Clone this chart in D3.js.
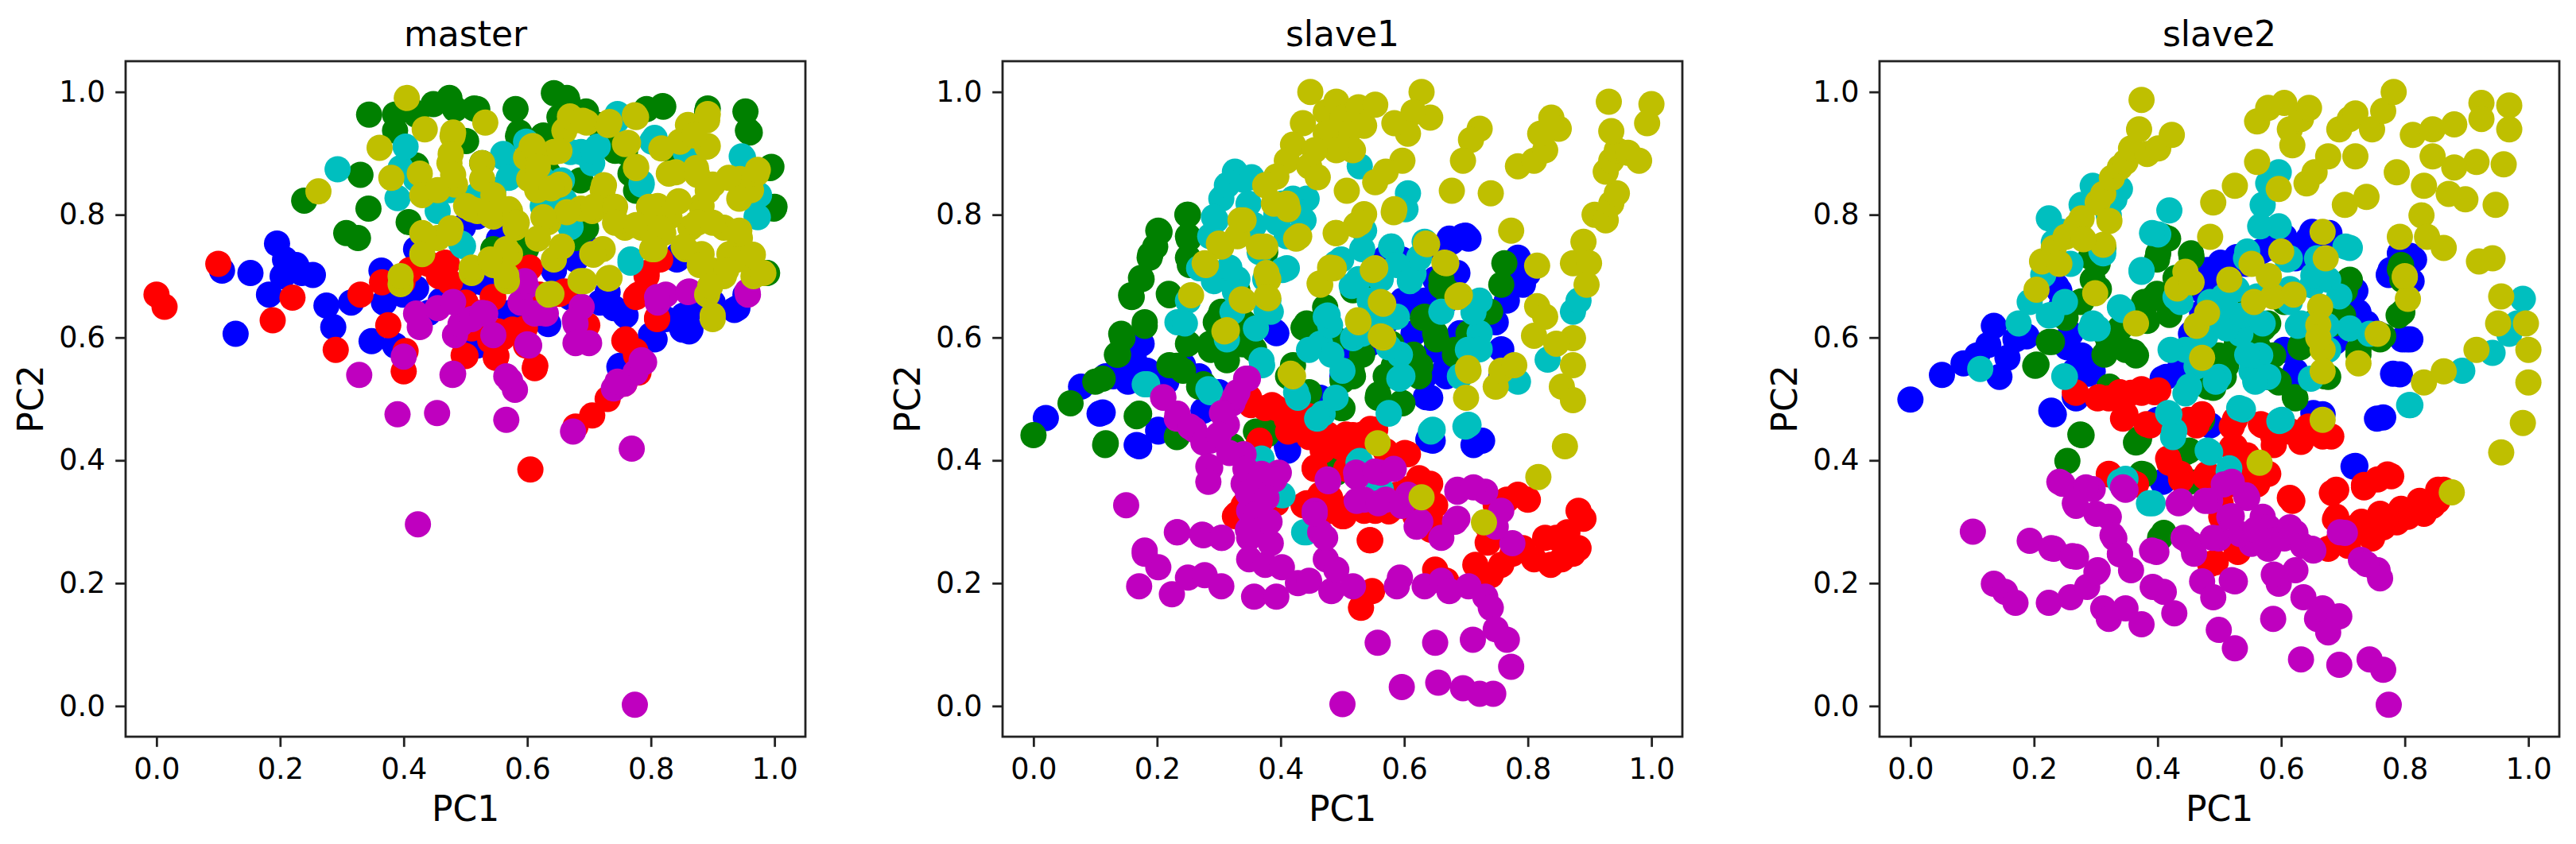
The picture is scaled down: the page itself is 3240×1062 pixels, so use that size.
<!DOCTYPE html>
<html><head><meta charset="utf-8">
<script src="https://cdn.jsdelivr.net/npm/d3@7"></script>
<style>
html,body{margin:0;padding:0;background:#fff;}
svg{display:block;}
</style></head>
<body>
<svg id="chart" width="3240" height="1062"></svg>
<script>
// ---------- data ----------
const panelTitles = ["master", "slave1", "slave2"];
const classColors = ["#0000ff", "#008000", "#ff0000", "#00bfbf", "#bf00bf", "#bfbf00"]; // b g r c m y
const tickValues = [0.0, 0.2, 0.4, 0.6, 0.8, 1.0];
const xLabel = "PC1";
const yLabel = "PC2";

// master
const masterBlue = [[0.106,0.709],[0.128,0.606],[0.152,0.705],[0.195,0.753],[0.182,0.67],[0.208,0.727],[0.226,0.718],[0.235,0.705],[0.253,0.702],[0.204,0.70],[0.275,0.652],[0.286,0.617],[0.348,0.594],[0.364,0.709],[0.368,0.657],[0.386,0.587],[0.399,0.67],[0.42,0.744],[0.44,0.64],[0.474,0.69],[0.496,0.78],[0.519,0.797],[0.527,0.69],[0.554,0.76],[0.572,0.64],[0.643,0.709],[0.678,0.727],[0.718,0.657],[0.74,0.648],[0.757,0.64],[0.73,0.674],[0.749,0.552],[0.80,0.604],[0.824,0.63],[0.847,0.622],[0.851,0.613],[0.864,0.613],[0.842,0.727],[0.869,0.648],[0.94,0.648],[0.953,0.67],[0.90,0.657],[0.634,0.622],[0.67,0.665],[0.598,0.622],[0.315,0.657],[0.519,0.587],
  [0.562,0.766],[0.643,0.71],[0.506,0.688],[0.724,0.658],[0.759,0.636],[0.853,0.636],[0.862,0.61],[0.806,0.597],[0.935,0.645],[0.845,0.735],[0.75,0.554],[0.699,0.744],[0.46,0.66],[0.42,0.68]];
const masterGreen = [[0.239,0.823],[0.307,0.77],[0.326,0.762],[0.33,0.865],[0.343,0.81],[0.344,0.963],[0.386,0.963],[0.386,0.937],[0.408,0.976],[0.42,0.963],[0.448,0.98],[0.474,0.99],[0.483,0.972],[0.519,0.972],[0.501,0.92],[0.408,0.788],[0.581,0.972],[0.585,0.928],[0.625,0.928],[0.643,0.998],[0.665,0.985],[0.652,0.959],[0.692,0.963],[0.714,0.946],[0.741,0.911],[0.767,0.867],[0.78,0.84],[0.793,0.972],[0.82,0.976],[0.864,0.937],[0.891,0.968],[0.953,0.968],[0.957,0.937],[0.993,0.876],[0.999,0.81],[0.988,0.705],[0.687,0.797],[0.678,0.762],[0.598,0.744],[0.527,0.884],[0.634,0.867],[0.758,0.902],[0.838,0.902],[0.42,0.88],[0.545,0.744],
  [0.514,0.973],[0.664,0.99],[0.695,0.968],[0.656,0.96],[0.587,0.934],[0.626,0.929],[0.819,0.977],[0.892,0.973],[0.96,0.934],[0.995,0.878],[1.0,0.813],[0.986,0.705],[0.686,0.856],[0.776,0.839],[0.695,0.778],[0.493,0.921],[0.742,0.904]];
const masterRed = [[0.0,0.67],[0.013,0.65],[0.10,0.72],[0.188,0.628],[0.22,0.665],[0.29,0.58],[0.33,0.67],[0.365,0.69],[0.375,0.62],[0.398,0.69],[0.403,0.578],[0.40,0.545],[0.41,0.71],[0.44,0.72],[0.457,0.70],[0.47,0.72],[0.475,0.69],[0.50,0.657],[0.50,0.57],[0.52,0.64],[0.545,0.665],[0.54,0.595],[0.55,0.57],[0.576,0.613],[0.598,0.587],[0.585,0.69],[0.60,0.71],[0.612,0.55],[0.62,0.67],[0.66,0.675],[0.697,0.62],[0.605,0.385],[0.678,0.455],[0.705,0.473],[0.73,0.50],[0.757,0.525],[0.78,0.543],[0.757,0.595],[0.775,0.578],[0.78,0.67],[0.793,0.70],[0.81,0.63],[0.815,0.727],[0.56,0.60],
  [0.467,0.722],[0.604,0.714],[0.793,0.705],[0.776,0.666],[0.81,0.632],[0.652,0.671],[0.544,0.666],[0.51,0.615],[0.553,0.61],[0.596,0.615],[0.497,0.571],[0.549,0.567],[0.613,0.554],[0.69,0.619],[0.759,0.597],[0.776,0.571]];
const masterCyan = [[0.293,0.874],[0.395,0.876],[0.403,0.911],[0.39,0.827],[0.42,0.858],[0.455,0.806],[0.496,0.749],[0.519,0.832],[0.545,0.84],[0.562,0.893],[0.589,0.884],[0.598,0.919],[0.625,0.858],[0.66,0.823],[0.67,0.902],[0.687,0.902],[0.705,0.884],[0.714,0.911],[0.745,0.954],[0.767,0.722],[0.785,0.849],[0.802,0.919],[0.949,0.893],[0.971,0.797],[0.975,0.832],[0.474,0.84],[0.625,0.814],[0.856,0.902],[0.873,0.919],[0.67,0.78],
  [0.746,0.964],[0.561,0.899],[0.707,0.904],[0.806,0.925],[0.947,0.895],[0.785,0.852],[0.656,0.856],[0.54,0.839],[0.973,0.796],[0.767,0.727],[0.493,0.753],[0.57,0.86]];
const masterMagenta = [[0.328,0.539],[0.39,0.475],[0.454,0.477],[0.423,0.296],[0.40,0.569],[0.42,0.639],[0.426,0.617],[0.455,0.648],[0.479,0.539],[0.483,0.604],[0.492,0.622],[0.51,0.63],[0.532,0.639],[0.566,0.466],[0.572,0.53],[0.58,0.515],[0.589,0.657],[0.598,0.683],[0.603,0.587],[0.612,0.639],[0.63,0.639],[0.678,0.622],[0.678,0.591],[0.70,0.591],[0.674,0.447],[0.74,0.517],[0.757,0.525],[0.775,0.543],[0.789,0.56],[0.769,0.419],[0.774,0.002],[0.811,0.657],[0.824,0.67],[0.86,0.674],[0.957,0.67],[0.545,0.604],[0.688,0.65],
  [0.48,0.658],[0.527,0.64],[0.596,0.692],[0.622,0.64],[0.677,0.628],[0.682,0.593],[0.81,0.666],[0.862,0.675],[0.956,0.675],[0.60,0.589],[0.566,0.537],[0.48,0.541],[0.785,0.563],[0.746,0.528]];
const masterYellow = [[0.262,0.838],[0.405,0.99],[0.361,0.909],[0.38,0.86],[0.434,0.939],[0.479,0.928],[0.532,0.95],[0.426,0.867],[0.43,0.832],[0.474,0.884],[0.483,0.849],[0.501,0.814],[0.527,0.884],[0.527,0.858],[0.519,0.806],[0.545,0.797],[0.572,0.806],[0.581,0.779],[0.598,0.893],[0.607,0.911],[0.603,0.858],[0.616,0.84],[0.634,0.788],[0.643,0.902],[0.66,0.937],[0.678,0.954],[0.696,0.95],[0.731,0.946],[0.776,0.959],[0.758,0.915],[0.776,0.876],[0.722,0.84],[0.74,0.806],[0.705,0.806],[0.758,0.779],[0.811,0.814],[0.82,0.77],[0.802,0.744],[0.785,0.779],[0.829,0.867],[0.847,0.919],[0.86,0.946],[0.873,0.876],[0.891,0.954],[0.891,0.911],[0.9,0.849],[0.882,0.814],[0.864,0.779],[0.856,0.744],[0.882,0.736],[0.9,0.709],[0.9,0.63],[0.891,0.67],[0.918,0.70],[0.927,0.736],[0.944,0.762],[0.962,0.84],[0.971,0.867],[0.944,0.858],[0.94,0.727],[0.966,0.70],[0.918,0.779],[0.83,0.797],[0.43,0.77],[0.43,0.736],[0.455,0.762],[0.474,0.77],[0.395,0.687],[0.51,0.705],[0.545,0.718],[0.567,0.692],[0.572,0.736],[0.634,0.67],[0.643,0.727],[0.692,0.692],[0.705,0.736],[0.731,0.696],[0.722,0.744],[0.395,0.70],[0.687,0.81],[0.652,0.849],[0.545,0.832],[0.455,0.84],
  [0.48,0.934],[0.669,0.96],[0.69,0.953],[0.733,0.951],[0.774,0.962],[0.892,0.964],[0.763,0.917],[0.609,0.912],[0.652,0.904],[0.476,0.899],[0.817,0.908],[0.892,0.912],[0.87,0.929],[0.776,0.878],[0.617,0.878],[0.84,0.869],[0.973,0.873],[0.926,0.86],[0.875,0.865],[0.48,0.865],[0.724,0.848],[0.639,0.843],[0.943,0.826],[0.892,0.839],[0.707,0.813],[0.742,0.813],[0.797,0.813],[0.845,0.822],[0.664,0.804],[0.57,0.809],[0.51,0.809],[0.54,0.80],[0.476,0.778],[0.583,0.787],[0.626,0.796],[0.742,0.787],[0.776,0.783],[0.815,0.778],[0.875,0.787],[0.90,0.787],[0.943,0.774],[0.617,0.761],[0.656,0.748],[0.566,0.744],[0.51,0.714],[0.54,0.727],[0.566,0.701],[0.639,0.671],[0.686,0.692],[0.707,0.735],[0.733,0.697],[0.806,0.744],[0.853,0.748],[0.879,0.718],[0.922,0.71],[0.965,0.735],[0.982,0.705],[0.896,0.684],[0.90,0.636]];

// slave1
const slave1Blue = [[0.02,0.469],[0.077,0.52],[0.107,0.476],[0.117,0.537],[0.135,0.546],[0.153,0.528],[0.171,0.546],[0.171,0.423],[0.175,0.59],[0.202,0.45],[0.215,0.528],[0.242,0.555],[0.268,0.537],[0.286,0.485],[0.30,0.511],[0.393,0.607],[0.41,0.423],[0.446,0.467],[0.464,0.502],[0.50,0.537],[0.517,0.572],[0.544,0.59],[0.57,0.625],[0.597,0.66],[0.606,0.713],[0.615,0.607],[0.633,0.66],[0.642,0.502],[0.646,0.432],[0.65,0.695],[0.66,0.739],[0.677,0.756],[0.695,0.765],[0.704,0.761],[0.668,0.66],[0.668,0.537],[0.69,0.607],[0.726,0.432],[0.748,0.625],[0.757,0.581],[0.757,0.537],[0.775,0.695],[0.784,0.73],[0.792,0.686],[0.80,0.704],[0.766,0.66],[0.606,0.572],[0.633,0.537],[0.57,0.73],
  [0.129,0.537],[0.112,0.478],[0.167,0.425],[0.202,0.447],[0.163,0.563],[0.184,0.546],[0.275,0.481],[0.39,0.61],[0.412,0.416],[0.673,0.761],[0.699,0.766],[0.686,0.705],[0.618,0.649],[0.652,0.58],[0.665,0.546],[0.635,0.503],[0.639,0.434],[0.51,0.546],[0.712,0.425],[0.596,0.727]];
const slave1Green = [[0.0,0.441],[0.06,0.493],[0.1,0.528],[0.117,0.428],[0.135,0.572],[0.144,0.599],[0.158,0.669],[0.171,0.476],[0.175,0.695],[0.18,0.625],[0.188,0.73],[0.197,0.748],[0.202,0.774],[0.22,0.669],[0.22,0.555],[0.233,0.441],[0.25,0.80],[0.25,0.765],[0.25,0.73],[0.25,0.59],[0.242,0.546],[0.268,0.52],[0.286,0.59],[0.295,0.625],[0.304,0.642],[0.322,0.423],[0.33,0.677],[0.34,0.625],[0.357,0.581],[0.38,0.45],[0.42,0.555],[0.437,0.616],[0.446,0.511],[0.464,0.625],[0.482,0.59],[0.50,0.485],[0.517,0.537],[0.517,0.677],[0.535,0.695],[0.557,0.502],[0.57,0.537],[0.579,0.59],[0.597,0.493],[0.615,0.572],[0.624,0.537],[0.633,0.634],[0.65,0.607],[0.66,0.695],[0.668,0.677],[0.682,0.572],[0.704,0.607],[0.739,0.642],[0.757,0.686],[0.762,0.721],[0.49,0.38],[0.375,0.739],[0.5,0.53],
  [0.249,0.80],[0.204,0.772],[0.189,0.735],[0.174,0.697],[0.159,0.666],[0.219,0.671],[0.251,0.761],[0.253,0.718],[0.18,0.619],[0.142,0.606],[0.137,0.572],[0.112,0.533],[0.167,0.472],[0.116,0.425],[0.232,0.554],[0.232,0.438],[0.30,0.632],[0.287,0.58],[0.313,0.563],[0.339,0.589],[0.275,0.524],[0.36,0.447],[0.412,0.537],[0.442,0.623],[0.472,0.649],[0.489,0.597],[0.515,0.546],[0.498,0.485],[0.532,0.572],[0.558,0.507],[0.596,0.494],[0.626,0.554],[0.63,0.632],[0.652,0.597],[0.66,0.684],[0.682,0.58],[0.583,0.554],[0.48,0.386],[0.377,0.442]];
const slave1Red = [[0.326,0.309],[0.349,0.502],[0.366,0.432],[0.375,0.485],[0.393,0.485],[0.41,0.467],[0.42,0.45],[0.428,0.476],[0.446,0.45],[0.464,0.441],[0.482,0.432],[0.50,0.436],[0.517,0.441],[0.535,0.432],[0.553,0.45],[0.57,0.415],[0.588,0.406],[0.606,0.41],[0.455,0.388],[0.437,0.327],[0.464,0.344],[0.482,0.318],[0.50,0.309],[0.517,0.327],[0.535,0.318],[0.553,0.318],[0.57,0.336],[0.588,0.344],[0.606,0.353],[0.624,0.371],[0.642,0.362],[0.65,0.327],[0.646,0.296],[0.544,0.27],[0.548,0.187],[0.53,0.16],[0.65,0.222],[0.668,0.204],[0.715,0.23],[0.735,0.266],[0.735,0.292],[0.748,0.327],[0.766,0.336],[0.784,0.344],[0.8,0.336],[0.74,0.213],[0.757,0.23],[0.775,0.248],[0.792,0.257],[0.81,0.239],[0.828,0.274],[0.846,0.274],[0.864,0.283],[0.882,0.318],[0.89,0.305],[0.873,0.248],[0.855,0.239],[0.882,0.257],[0.837,0.23],[0.357,0.318],[0.34,0.327],[0.393,0.33],
  [0.352,0.49],[0.386,0.49],[0.42,0.477],[0.446,0.472],[0.412,0.447],[0.446,0.438],[0.476,0.442],[0.506,0.442],[0.532,0.442],[0.545,0.451],[0.468,0.416],[0.498,0.421],[0.601,0.412],[0.365,0.429],[0.455,0.386],[0.506,0.386],[0.33,0.313],[0.442,0.33],[0.48,0.339],[0.502,0.309],[0.532,0.326],[0.575,0.317],[0.639,0.356],[0.643,0.287],[0.545,0.27],[0.618,0.309],[0.347,0.36]];
const slave1Cyan = [[0.18,0.524],[0.233,0.625],[0.25,0.66],[0.268,0.713],[0.286,0.765],[0.295,0.791],[0.304,0.826],[0.313,0.848],[0.326,0.87],[0.34,0.857],[0.353,0.861],[0.348,0.818],[0.357,0.783],[0.366,0.739],[0.375,0.695],[0.38,0.66],[0.384,0.642],[0.37,0.555],[0.286,0.511],[0.33,0.695],[0.322,0.642],[0.393,0.80],[0.402,0.818],[0.42,0.826],[0.428,0.809],[0.437,0.791],[0.442,0.826],[0.41,0.765],[0.41,0.713],[0.428,0.502],[0.468,0.476],[0.464,0.59],[0.473,0.634],[0.482,0.572],[0.49,0.721],[0.50,0.546],[0.517,0.599],[0.526,0.695],[0.528,0.879],[0.535,0.774],[0.544,0.66],[0.553,0.625],[0.562,0.695],[0.579,0.748],[0.575,0.476],[0.588,0.634],[0.593,0.572],[0.597,0.537],[0.606,0.835],[0.602,0.809],[0.615,0.704],[0.624,0.73],[0.633,0.756],[0.646,0.45],[0.66,0.642],[0.69,0.537],[0.704,0.458],[0.722,0.607],[0.722,0.581],[0.722,0.66],[0.784,0.528],[0.832,0.564],[0.873,0.642],[0.882,0.66],[0.442,0.283],[0.526,0.397],[0.562,0.353],[0.357,0.397],[0.40,0.344],[0.48,0.62],
  [0.292,0.796],[0.343,0.796],[0.395,0.787],[0.429,0.804],[0.292,0.692],[0.317,0.714],[0.403,0.71],[0.326,0.675],[0.377,0.645],[0.245,0.623],[0.36,0.615],[0.313,0.597],[0.184,0.524],[0.283,0.516],[0.369,0.563],[0.425,0.511],[0.446,0.58],[0.459,0.468],[0.489,0.502],[0.476,0.636],[0.498,0.727],[0.515,0.684],[0.532,0.744],[0.532,0.606],[0.566,0.641],[0.579,0.748],[0.588,0.718],[0.609,0.692],[0.575,0.584],[0.592,0.533],[0.575,0.477],[0.643,0.447],[0.699,0.455],[0.712,0.641],[0.703,0.58],[0.528,0.399],[0.369,0.403],[0.438,0.283],[0.558,0.352],[0.403,0.343]];
const slave1Magenta = [[0.15,0.327],[0.171,0.195],[0.18,0.248],[0.202,0.226],[0.21,0.502],[0.224,0.182],[0.233,0.283],[0.233,0.476],[0.25,0.209],[0.26,0.45],[0.273,0.279],[0.277,0.213],[0.286,0.432],[0.286,0.388],[0.304,0.274],[0.304,0.195],[0.313,0.458],[0.322,0.493],[0.33,0.511],[0.344,0.533],[0.34,0.41],[0.34,0.362],[0.349,0.318],[0.349,0.274],[0.349,0.239],[0.357,0.178],[0.366,0.291],[0.375,0.23],[0.38,0.371],[0.384,0.265],[0.393,0.178],[0.397,0.38],[0.402,0.226],[0.428,0.20],[0.446,0.204],[0.455,0.318],[0.464,0.283],[0.473,0.239],[0.477,0.366],[0.482,0.187],[0.49,0.222],[0.50,0.003],[0.517,0.195],[0.522,0.38],[0.535,0.336],[0.557,0.103],[0.562,0.38],[0.57,0.336],[0.588,0.195],[0.593,0.209],[0.596,0.031],[0.606,0.344],[0.62,0.292],[0.633,0.195],[0.65,0.103],[0.655,0.038],[0.66,0.204],[0.673,0.187],[0.686,0.349],[0.686,0.305],[0.695,0.029],[0.704,0.195],[0.711,0.108],[0.722,0.02],[0.731,0.349],[0.731,0.178],[0.74,0.16],[0.744,0.02],[0.748,0.125],[0.757,0.318],[0.766,0.108],[0.773,0.064],[0.775,0.265],[0.748,0.292],[0.66,0.274],
  [0.21,0.503],[0.232,0.468],[0.347,0.533],[0.326,0.503],[0.305,0.477],[0.253,0.455],[0.275,0.429],[0.30,0.442],[0.283,0.39],[0.317,0.412],[0.343,0.386],[0.283,0.365],[0.369,0.378],[0.39,0.369],[0.347,0.347],[0.377,0.339],[0.36,0.313],[0.382,0.30],[0.347,0.287],[0.232,0.283],[0.275,0.278],[0.305,0.274],[0.18,0.253],[0.476,0.369],[0.455,0.313],[0.472,0.274],[0.523,0.373],[0.523,0.334],[0.553,0.382],[0.583,0.386],[0.558,0.33],[0.596,0.326],[0.626,0.30],[0.682,0.30],[0.686,0.352],[0.712,0.356]];
const slave1Yellow = [[0.448,1.0],[0.436,0.949],[0.42,0.914],[0.41,0.888],[0.393,0.862],[0.375,0.848],[0.473,0.967],[0.49,0.984],[0.50,0.958],[0.508,0.932],[0.517,0.905],[0.526,0.975],[0.535,0.945],[0.553,0.979],[0.473,0.932],[0.49,0.905],[0.455,0.905],[0.446,0.879],[0.46,0.861],[0.628,1.0],[0.642,0.958],[0.615,0.967],[0.606,0.932],[0.597,0.888],[0.584,0.949],[0.57,0.87],[0.553,0.853],[0.535,0.801],[0.522,0.783],[0.507,0.839],[0.49,0.77],[0.722,0.94],[0.708,0.922],[0.695,0.888],[0.677,0.839],[0.74,0.835],[0.584,0.809],[0.43,0.765],[0.41,0.818],[0.389,0.818],[0.34,0.791],[0.33,0.765],[0.304,0.748],[0.277,0.721],[0.255,0.669],[0.313,0.612],[0.34,0.66],[0.375,0.748],[0.38,0.695],[0.38,0.664],[0.464,0.686],[0.486,0.713],[0.42,0.537],[0.553,0.713],[0.526,0.625],[0.566,0.655],[0.566,0.60],[0.637,0.752],[0.668,0.721],[0.69,0.669],[0.704,0.546],[0.70,0.502],[0.748,0.52],[0.757,0.546],[0.778,0.555],[0.557,0.428],[0.628,0.34],[0.729,0.299],[0.773,0.774],[0.815,0.717],[0.815,0.651],[0.81,0.603],[0.828,0.634],[0.86,0.423],[0.817,0.373],[0.784,0.879],[0.81,0.888],[0.828,0.905],[0.82,0.932],[0.838,0.958],[0.85,0.94],[0.873,0.721],[0.89,0.756],[0.899,0.721],[0.895,0.686],[0.873,0.599],[0.846,0.59],[0.855,0.52],[0.873,0.555],[0.873,0.498],[0.908,0.80],[0.926,0.791],[0.935,0.818],[0.944,0.835],[0.926,0.87],[0.935,0.888],[0.944,0.905],[0.931,0.984],[0.935,0.936],[0.962,0.901],[0.98,0.888],[1.0,0.98],[0.993,0.949],
  [0.335,0.791],[0.30,0.753],[0.279,0.718],[0.365,0.748],[0.377,0.705],[0.337,0.662],[0.377,0.666],[0.309,0.61],[0.425,0.761],[0.412,0.809],[0.489,0.77],[0.528,0.787],[0.583,0.804],[0.463,0.688],[0.48,0.714],[0.549,0.71],[0.562,0.658],[0.525,0.628],[0.562,0.602],[0.635,0.753],[0.665,0.722],[0.686,0.666],[0.703,0.55],[0.416,0.541]];

// slave2
const slave2Blue = [[0.0,0.499],[0.051,0.539],[0.086,0.558],[0.108,0.571],[0.126,0.588],[0.135,0.619],[0.144,0.536],[0.157,0.567],[0.17,0.597],[0.188,0.602],[0.232,0.475],[0.241,0.676],[0.259,0.606],[0.277,0.571],[0.295,0.545],[0.268,0.501],[0.40,0.466],[0.414,0.536],[0.437,0.553],[0.454,0.606],[0.472,0.641],[0.48,0.672],[0.485,0.457],[0.499,0.694],[0.516,0.702],[0.543,0.72],[0.561,0.737],[0.579,0.746],[0.605,0.764],[0.623,0.729],[0.65,0.772],[0.667,0.764],[0.676,0.755],[0.667,0.475],[0.72,0.391],[0.72,0.676],[0.725,0.641],[0.738,0.623],[0.756,0.606],[0.765,0.47],[0.774,0.702],[0.792,0.737],[0.8,0.72],[0.809,0.733],[0.796,0.597],[0.809,0.597],[0.792,0.54],[0.623,0.545],[0.579,0.536],[0.605,0.58],
  [0.228,0.481],[0.266,0.503],[0.266,0.546],[0.288,0.541],[0.236,0.684],[0.245,0.654],[0.254,0.584],[0.408,0.533],[0.468,0.679],[0.481,0.71],[0.502,0.722],[0.528,0.731],[0.567,0.74],[0.61,0.748],[0.644,0.761],[0.678,0.77],[0.713,0.679],[0.687,0.593],[0.652,0.477],[0.665,0.597],[0.622,0.541],[0.717,0.39],[0.755,0.468],[0.777,0.71],[0.803,0.597],[0.781,0.541],[0.815,0.727],[0.811,0.692],[0.408,0.365],[0.472,0.472]];
const slave2Green = [[0.204,0.556],[0.229,0.593],[0.251,0.632],[0.277,0.659],[0.277,0.441],[0.295,0.694],[0.303,0.72],[0.312,0.746],[0.321,0.588],[0.339,0.615],[0.348,0.58],[0.365,0.571],[0.37,0.435],[0.374,0.378],[0.383,0.627],[0.392,0.663],[0.401,0.737],[0.41,0.282],[0.41,0.764],[0.419,0.637],[0.445,0.685],[0.454,0.737],[0.472,0.58],[0.472,0.466],[0.499,0.571],[0.507,0.536],[0.525,0.606],[0.543,0.641],[0.561,0.588],[0.579,0.623],[0.587,0.571],[0.596,0.527],[0.605,0.658],[0.623,0.501],[0.632,0.588],[0.65,0.623],[0.676,0.536],[0.685,0.623],[0.703,0.676],[0.711,0.694],[0.725,0.58],[0.765,0.602],[0.792,0.711],[0.796,0.694],[0.796,0.641],[0.49,0.518],[0.445,0.413],
  [0.292,0.731],[0.305,0.679],[0.275,0.658],[0.224,0.593],[0.202,0.554],[0.318,0.602],[0.314,0.572],[0.361,0.576],[0.378,0.658],[0.399,0.727],[0.417,0.761],[0.455,0.731],[0.399,0.671],[0.429,0.697],[0.322,0.52],[0.275,0.442],[0.365,0.429],[0.378,0.377],[0.451,0.416],[0.481,0.52],[0.511,0.554],[0.528,0.589],[0.575,0.572],[0.588,0.533],[0.571,0.615],[0.622,0.503],[0.631,0.584],[0.67,0.537],[0.708,0.692],[0.70,0.636],[0.725,0.572],[0.79,0.636],[0.794,0.718],[0.76,0.597],[0.451,0.365],[0.404,0.274],[0.254,0.399]];
const slave2Red = [[0.268,0.51],[0.303,0.501],[0.321,0.501],[0.321,0.378],[0.339,0.51],[0.348,0.475],[0.357,0.51],[0.365,0.361],[0.374,0.51],[0.388,0.457],[0.401,0.514],[0.419,0.396],[0.437,0.378],[0.45,0.466],[0.463,0.457],[0.472,0.475],[0.48,0.378],[0.494,0.234],[0.503,0.308],[0.516,0.361],[0.525,0.422],[0.525,0.466],[0.53,0.251],[0.543,0.387],[0.561,0.361],[0.57,0.457],[0.579,0.378],[0.587,0.439],[0.614,0.448],[0.618,0.334],[0.632,0.43],[0.65,0.448],[0.667,0.439],[0.681,0.439],[0.676,0.256],[0.689,0.352],[0.689,0.308],[0.694,0.273],[0.72,0.291],[0.734,0.356],[0.747,0.273],[0.756,0.369],[0.765,0.291],[0.778,0.374],[0.787,0.299],[0.805,0.308],[0.818,0.317],[0.831,0.313],[0.845,0.326],[0.853,0.334],[0.863,0.352],[0.703,0.273],
  [0.266,0.511],[0.305,0.503],[0.339,0.511],[0.374,0.516],[0.395,0.511],[0.344,0.468],[0.382,0.459],[0.434,0.459],[0.468,0.468],[0.52,0.455],[0.52,0.421],[0.567,0.459],[0.614,0.447],[0.644,0.455],[0.674,0.442],[0.588,0.425],[0.545,0.408],[0.417,0.403],[0.438,0.369],[0.477,0.373],[0.322,0.377],[0.356,0.365],[0.571,0.377],[0.614,0.339],[0.682,0.347],[0.734,0.36],[0.772,0.377],[0.687,0.304],[0.73,0.30],[0.76,0.313],[0.794,0.321],[0.824,0.334],[0.854,0.352],[0.708,0.261],[0.528,0.253],[0.485,0.231],[0.502,0.33]];
const slave2Cyan = [[0.113,0.549],[0.175,0.623],[0.193,0.658],[0.215,0.702],[0.224,0.794],[0.232,0.755],[0.245,0.772],[0.228,0.637],[0.25,0.536],[0.259,0.72],[0.277,0.816],[0.295,0.847],[0.295,0.623],[0.303,0.615],[0.312,0.737],[0.321,0.799],[0.33,0.825],[0.339,0.842],[0.343,0.645],[0.348,0.37],[0.374,0.707],[0.392,0.33],[0.401,0.768],[0.419,0.807],[0.419,0.475],[0.427,0.448],[0.437,0.658],[0.445,0.58],[0.445,0.509],[0.463,0.553],[0.472,0.606],[0.485,0.413],[0.49,0.623],[0.499,0.536],[0.507,0.667],[0.516,0.641],[0.516,0.387],[0.534,0.606],[0.538,0.483],[0.543,0.729],[0.552,0.545],[0.561,0.667],[0.566,0.571],[0.57,0.623],[0.579,0.536],[0.57,0.816],[0.566,0.781],[0.579,0.851],[0.596,0.869],[0.596,0.781],[0.601,0.466],[0.614,0.729],[0.614,0.658],[0.632,0.623],[0.65,0.685],[0.658,0.729],[0.667,0.623],[0.676,0.694],[0.676,0.58],[0.694,0.667],[0.711,0.746],[0.711,0.615],[0.743,0.606],[0.809,0.49],[0.893,0.546],[0.942,0.575],[0.969,0.606],[0.991,0.663],[0.982,0.623],[0.25,0.658],
  [0.391,0.77],[0.374,0.71],[0.309,0.74],[0.224,0.636],[0.292,0.615],[0.249,0.537],[0.339,0.649],[0.421,0.58],[0.429,0.666],[0.451,0.52],[0.485,0.658],[0.494,0.528],[0.477,0.602],[0.511,0.615],[0.545,0.572],[0.537,0.636],[0.528,0.679],[0.545,0.74],[0.61,0.727],[0.614,0.679],[0.627,0.619],[0.652,0.701],[0.674,0.619],[0.704,0.748],[0.648,0.533],[0.558,0.528],[0.532,0.485],[0.597,0.464],[0.417,0.477],[0.425,0.438],[0.481,0.416],[0.515,0.382],[0.386,0.33],[0.339,0.365],[0.807,0.49]];
const slave2Magenta = [[0.101,0.284],[0.135,0.199],[0.153,0.186],[0.17,0.168],[0.193,0.269],[0.224,0.168],[0.232,0.256],[0.246,0.362],[0.259,0.177],[0.268,0.243],[0.268,0.326],[0.286,0.194],[0.295,0.353],[0.303,0.221],[0.312,0.159],[0.321,0.308],[0.321,0.142],[0.33,0.273],[0.339,0.247],[0.348,0.159],[0.348,0.352],[0.357,0.221],[0.374,0.133],[0.392,0.194],[0.398,0.251],[0.41,0.186],[0.427,0.151],[0.438,0.333],[0.454,0.264],[0.472,0.203],[0.485,0.334],[0.49,0.177],[0.499,0.273],[0.499,0.124],[0.507,0.361],[0.516,0.308],[0.525,0.094],[0.525,0.203],[0.543,0.343],[0.552,0.264],[0.57,0.308],[0.579,0.256],[0.587,0.142],[0.596,0.199],[0.605,0.273],[0.623,0.282],[0.623,0.221],[0.632,0.076],[0.636,0.177],[0.65,0.256],[0.658,0.142],[0.667,0.159],[0.676,0.12],[0.694,0.146],[0.694,0.067],[0.703,0.282],[0.729,0.238],[0.743,0.076],[0.756,0.221],[0.76,0.208],[0.765,0.059],[0.774,0.002],[0.579,0.291],[0.534,0.28],
  [0.241,0.365],[0.284,0.356],[0.266,0.33],[0.301,0.313],[0.344,0.356],[0.327,0.278],[0.339,0.248],[0.228,0.257],[0.262,0.244],[0.301,0.218],[0.434,0.33],[0.477,0.334],[0.52,0.365],[0.545,0.339],[0.52,0.309],[0.558,0.287],[0.588,0.27],[0.614,0.291],[0.635,0.261],[0.652,0.253],[0.695,0.283],[0.738,0.231],[0.442,0.274],[0.459,0.248],[0.391,0.253],[0.489,0.274],[0.588,0.214],[0.52,0.205]];
const slave2Yellow = [[0.204,0.678],[0.213,0.724],[0.232,0.746],[0.251,0.764],[0.268,0.781],[0.277,0.794],[0.299,0.672],[0.303,0.82],[0.312,0.834],[0.312,0.751],[0.326,0.86],[0.339,0.877],[0.348,0.886],[0.357,0.908],[0.37,0.939],[0.374,0.987],[0.383,0.899],[0.401,0.908],[0.423,0.93],[0.365,0.623],[0.432,0.68],[0.445,0.707],[0.463,0.619],[0.472,0.567],[0.485,0.764],[0.49,0.82],[0.525,0.847],[0.516,0.694],[0.552,0.72],[0.556,0.658],[0.561,0.886],[0.561,0.952],[0.565,0.396],[0.579,0.974],[0.587,0.667],[0.596,0.842],[0.605,0.982],[0.614,0.939],[0.618,0.913],[0.632,0.956],[0.645,0.974],[0.641,0.851],[0.654,0.869],[0.663,0.65],[0.667,0.772],[0.667,0.58],[0.667,0.545],[0.667,0.466],[0.672,0.729],[0.676,0.895],[0.694,0.939],[0.703,0.816],[0.711,0.956],[0.72,0.965],[0.72,0.895],[0.738,0.829],[0.747,0.939],[0.725,0.558],[0.756,0.606],[0.765,0.969],[0.782,1.0],[0.787,0.869],[0.792,0.764],[0.8,0.698],[0.805,0.663],[0.813,0.93],[0.831,0.527],[0.827,0.799],[0.831,0.847],[0.836,0.764],[0.845,0.939],[0.845,0.895],[0.863,0.746],[0.863,0.545],[0.871,0.834],[0.876,0.348],[0.88,0.947],[0.898,0.825],[0.916,0.886],[0.924,0.982],[0.924,0.956],[0.92,0.724],[0.916,0.58],[0.942,0.729],[0.947,0.816],[0.96,0.882],[0.956,0.667],[0.951,0.623],[0.956,0.413],[0.969,0.978],[0.969,0.939],[0.996,0.623],[1.0,0.58],[1.0,0.527],[0.991,0.461],[0.88,0.877],
  [0.28,0.76],[0.241,0.72],[0.322,0.79],[0.455,0.69],[0.48,0.64],[0.58,0.70],[0.62,0.67],[0.60,0.74],[0.66,0.62],[0.66,0.60],[0.80,0.70]];

const panelSeries = [
  [masterBlue, masterGreen, masterRed, masterCyan, masterMagenta, masterYellow],
  [slave1Blue, slave1Green, slave1Red, slave1Cyan, slave1Magenta, slave1Yellow],
  [slave2Blue, slave2Green, slave2Red, slave2Cyan, slave2Magenta, slave2Yellow]
];

// ---------- layout ----------
const FONT = "'DejaVu Sans', sans-serif";
const axLeft = [158, 1261, 2364];
const axW = 855, axTop = 77, axBottom = 927;
const tickLen = 12.8, tickPad = 12.8;
const tickFont = 36.6, labelFont = 44;
const markerR = 16.5;

const svg = d3.select("#chart");

panelTitles.forEach((title, p) => {
  const L = axLeft[p];
  const x = d3.scaleLinear().domain([-0.05, 1.05]).range([L, L + axW]);
  const y = d3.scaleLinear().domain([-0.05, 1.05]).range([axBottom, axTop]);
  const g = svg.append("g");

  const clipId = "clip" + p;
  g.append("clipPath").attr("id", clipId).append("rect")
    .attr("x", L).attr("y", axTop).attr("width", axW).attr("height", axBottom - axTop);

  const pts = g.append("g").attr("clip-path", `url(#${clipId})`);
  panelSeries[p].forEach((series, c) => {
    pts.append("g").selectAll("circle").data(series).join("circle")
      .attr("cx", d => x(d[0])).attr("cy", d => y(d[1]))
      .attr("r", markerR).attr("fill", classColors[c]);
  });

  // axes
  const xAxis = d3.axisBottom(x).tickValues(tickValues).tickFormat(d3.format(".1f"))
    .tickSize(tickLen).tickPadding(tickPad);
  const yAxis = d3.axisLeft(y).tickValues(tickValues).tickFormat(d3.format(".1f"))
    .tickSize(tickLen).tickPadding(tickPad);

  const gx = g.append("g").attr("transform", `translate(0,${axBottom})`).call(xAxis);
  const gy = g.append("g").attr("transform", `translate(${L},0)`).call(yAxis);
  [gx, gy].forEach(a => {
    a.select(".domain").remove();
    a.selectAll(".tick line").attr("stroke", "#222").attr("stroke-width", 2.8);
    a.selectAll(".tick text").attr("fill", "#000")
      .style("font-family", FONT).style("font-size", tickFont + "px");
  });
  gx.selectAll(".tick text").attr("dy", null).attr("y", tickLen + tickPad)
    .attr("dominant-baseline", "hanging");

  // frame
  g.append("rect").attr("x", L).attr("y", axTop).attr("width", axW).attr("height", axBottom - axTop)
    .attr("fill", "none").attr("stroke", "#222").attr("stroke-width", 2.8);

  // title & labels
  g.append("text").attr("x", L + axW / 2).attr("y", 58).attr("text-anchor", "middle")
    .style("font-family", FONT).style("font-size", labelFont + "px").attr("fill", "#000").text(title);
  g.append("text").attr("x", L + axW / 2).attr("y", 1033).attr("text-anchor", "middle")
    .style("font-family", FONT).style("font-size", labelFont + "px").attr("fill", "#000").text(xLabel);
  g.append("text").attr("transform", `translate(${L - 104},${(axTop + axBottom) / 2}) rotate(-90)`)
    .attr("text-anchor", "middle")
    .style("font-family", FONT).style("font-size", labelFont + "px").attr("fill", "#000").text(yLabel);
});
</script>
</body></html>
